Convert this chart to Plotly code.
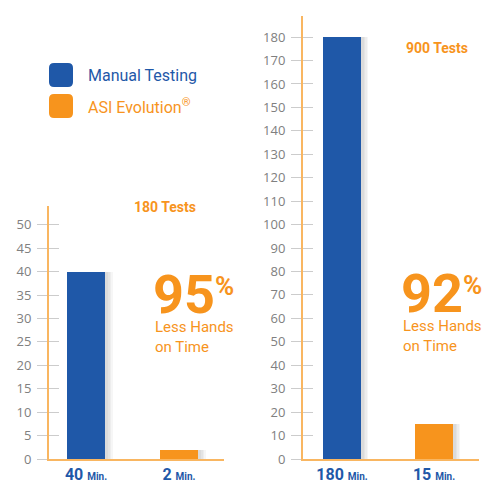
import plotly.graph_objects as go

# data
categories_left = ["40 Min.", "2 Min."]
values_left = [40, 2]
categories_right = ["180 Min.", "15 Min."]
values_right = [180, 15]
series_names = ["Manual Testing", "ASI Evolution®"]
tests_left = "180 Tests"
tests_right = "900 Tests"
pct_left = "95"
pct_right = "92"
yticks_left = [0, 5, 10, 15, 20, 25, 30, 35, 40, 45, 50]
yticks_right = [0, 10, 20, 30, 40, 50, 60, 70, 80, 90, 100, 110, 120, 130, 140, 150, 160, 170, 180]

BLUE = "#1f58a8"
ORANGE = "#f7941d"
AXIS_ORANGE = "#f9b661"
GRAY = "#808080"
FONT = "Roboto, sans-serif"
BAR_W = 0.41

# page has an 8px body margin, so the figure is drawn 8px in from the window corner
W = H = 492
OFF = 8


def px(x):
    return (x - OFF) / W


def py(y):
    return (OFF + H - y) / H


def tick_html(label):
    num, unit = label.split(" ")
    return f"<b>{num}</b> <b><span style='font-size:10px'>{unit}</span></b>"


fig = go.Figure()

for cats, vals, xa, ya in [
    (categories_left, values_left, "x", "y"),
    (categories_right, values_right, "x2", "y2"),
]:
    # soft shadows to the right of each bar
    for k in range(4):
        fig.add_trace(go.Bar(
            x=cats, y=vals, xaxis=xa, yaxis=ya,
            width=BAR_W + 0.08 - 0.025 * k, offset=-BAR_W / 2 + 0.01 * k,
            marker=dict(color="rgba(0,0,0,0.035)", line_width=0),
            showlegend=False, hoverinfo="skip",
        ))
    fig.add_trace(go.Bar(
        x=cats, y=vals, xaxis=xa, yaxis=ya,
        width=BAR_W, offset=-BAR_W / 2,
        marker=dict(color=[BLUE, ORANGE], line_width=0),
        showlegend=False,
    ))

xcommon = dict(
    type="category", showgrid=False, zeroline=False, automargin=False,
    showline=True, linecolor=AXIS_ORANGE, linewidth=2,
    ticks="", tickfont=dict(family=FONT, size=16, color=BLUE),
)
ycommon = dict(
    showgrid=False, zeroline=False, showline=True, linecolor=AXIS_ORANGE,
    linewidth=2, ticks="outside", ticklen=10, tickcolor="#cccccc", tickwidth=1,
    automargin=False, ticklabelstandoff=3,
    tickfont=dict(family="Open Sans, sans-serif", size=13, color=GRAY),
)
yinner = dict(ticks="inside", ticklen=10, tickcolor="#cccccc", tickwidth=1,
              showticklabels=False, showgrid=False, zeroline=False, automargin=False)

fig.update_layout(
    width=W, height=H,
    margin=dict(l=0, r=0, t=0, b=0),
    paper_bgcolor="white", plot_bgcolor="white",
    barmode="overlay", bargap=0,
    xaxis=dict(xcommon, domain=[px(49), px(224)], range=[-0.398, 1.484],
               tickvals=categories_left, ticktext=[tick_html(c) for c in categories_left],
               anchor="y"),
    yaxis=dict(ycommon, domain=[py(459), py(206)], range=[0, 54],
               tickvals=yticks_left, anchor="x"),
    xaxis2=dict(xcommon, domain=[px(303), px(479)], range=[-0.424, 1.489],
                tickvals=categories_right, ticktext=[tick_html(c) for c in categories_right],
                anchor="y2"),
    yaxis2=dict(ycommon, domain=[py(459), py(16)], range=[0, 189],
                tickvals=yticks_right, anchor="x2"),
    # inside halves of the tick marks
    yaxis3=dict(yinner, overlaying="y", range=[0, 54], tickvals=yticks_left, anchor="x"),
    yaxis4=dict(yinner, overlaying="y2", range=[0, 189], tickvals=yticks_right, anchor="x2"),
)

# invisible traces so the overlay axes render
fig.add_trace(go.Scatter(x=[categories_left[0]], y=[0], xaxis="x", yaxis="y3",
                         mode="markers", marker_opacity=0, showlegend=False, hoverinfo="skip"))
fig.add_trace(go.Scatter(x=[categories_right[0]], y=[0], xaxis="x2", yaxis="y4",
                         mode="markers", marker_opacity=0, showlegend=False, hoverinfo="skip"))

ann = []
ann.append(dict(x=px(165), y=py(207), text=f"<b>{tests_left}</b>",
                font=dict(family=FONT, size=14, color=ORANGE)))
ann.append(dict(x=px(437), y=py(48), text=f"<b>{tests_right}</b>",
                font=dict(family=FONT, size=14, color=ORANGE)))
for x0, ytop, pct in [(151, 273, pct_left), (399, 272, pct_right)]:
    ann.append(dict(x=px(x0), y=py(ytop + 21), xanchor="left", yanchor="middle",
                    text=f"<b>{pct}</b>",
                    font=dict(family=FONT, size=54, color=ORANGE)))
    ann.append(dict(x=px(x0 + 62), y=py(ytop - 4), xanchor="left", yanchor="top",
                    text="<b>%</b>",
                    font=dict(family=FONT, size=26, color=ORANGE)))
    ann.append(dict(x=px(x0 + 2), y=py(ytop + 54), xanchor="left",
                    text="Less Hands", font=dict(family=FONT, size=15, color=ORANGE)))
    ann.append(dict(x=px(x0 + 2), y=py(ytop + 74), xanchor="left",
                    text="on Time", font=dict(family=FONT, size=15, color=ORANGE)))
for a in ann:
    a.update(xref="paper", yref="paper", showarrow=False)
    a.setdefault("xanchor", "center")
    a.setdefault("yanchor", "middle")
    fig.add_annotation(**a)

# legend
for i, (name, col) in enumerate(zip(series_names, [BLUE, ORANGE])):
    top = 63 + i * 31
    x0, x1 = px(49), px(73)
    y0, y1 = py(top + 24), py(top)
    r = 5 / W
    path = (f"M {x0 + r},{y0} L {x1 - r},{y0} Q {x1},{y0} {x1},{y0 + r} "
            f"L {x1},{y1 - r} Q {x1},{y1} {x1 - r},{y1} L {x0 + r},{y1} "
            f"Q {x0},{y1} {x0},{y1 - r} L {x0},{y0 + r} Q {x0},{y0} {x0 + r},{y0} Z")
    fig.add_shape(type="path", path=path, xref="paper", yref="paper",
                  fillcolor=col, line_width=0)
    label = name.replace("®", "<sup>®</sup>")
    fig.add_annotation(x=px(86), y=py(top + 13), xref="paper", yref="paper",
                       xanchor="left", yanchor="middle", showarrow=False,
                       text=label, font=dict(family=FONT, size=16, color=col))

fig.write_html("out.html")
